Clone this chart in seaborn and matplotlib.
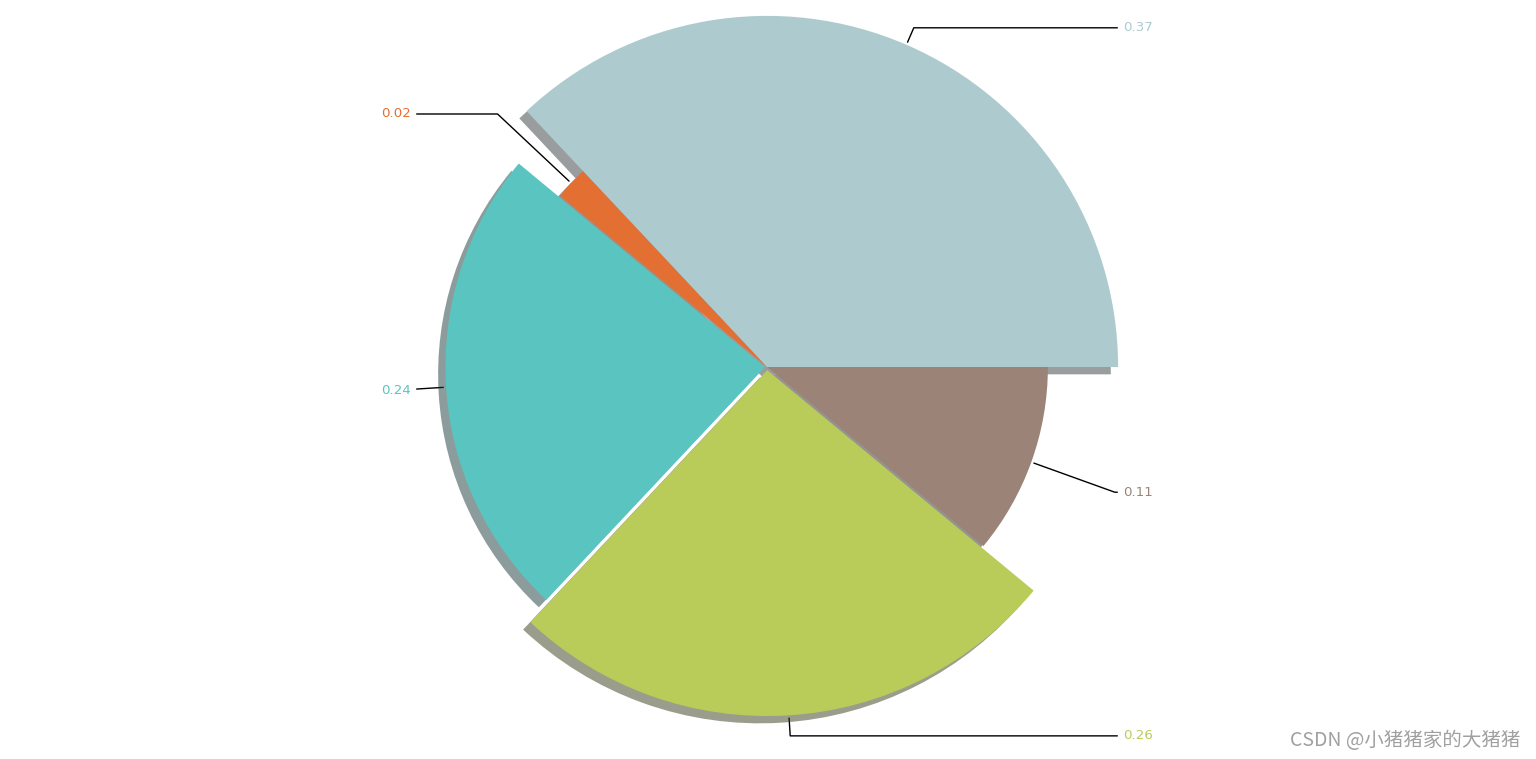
import numpy as np
import matplotlib
matplotlib.use("Agg")
import matplotlib.pyplot as plt
import seaborn as sns

sns.set_style("white")
plt.rcParams['font.family'] = ['DejaVu Sans', 'Noto Sans CJK SC']

# data
values = [0.37, 0.02, 0.24, 0.26, 0.11]
labels = ["0.37", "0.02", "0.24", "0.26", "0.11"]
radii = [1.33, 1.01, 1.21, 1.31, 1.064]
explode = [0, 0.008, 0.008, 0.012, 0]
colors = ["#adcbcf", "#e46f33", "#5ac5c0", "#b9cc59", "#9b8477"]

fig = plt.figure(figsize=(15.36, 7.59), dpi=100)
ax = fig.add_axes([0, 0, 1, 1])

wedges, _ = ax.pie(values, colors=colors, explode=explode, shadow=True,
                   startangle=0, wedgeprops=dict(linewidth=0))
for w, r in zip(wedges, radii):
    w.set_radius(r)

kw = dict(arrowprops=dict(arrowstyle="-", color="black", lw=1),
          zorder=0, va="center", fontsize=9.6)
for i, w in enumerate(wedges):
    ang = (w.theta2 + w.theta1) / 2.
    x = np.cos(np.deg2rad(ang))
    y = np.sin(np.deg2rad(ang))
    rr = radii[i] + explode[i]
    ha = {-1: "right", 1: "left"}[int(np.sign(x))]
    conn = "angle,angleA=0,angleB={}".format(ang)
    kw["arrowprops"].update({"connectionstyle": conn})
    ax.annotate(labels[i], xy=(rr * x, rr * y), xytext=(1.35 * np.sign(x), 1.4 * y),
                ha=ha, color=colors[i], **kw)

# keep 1 unit = 264 px, centre at (767, 367) from top-left
s = 264
ax.set_xlim(-767 / s, (1536 - 767) / s)
ax.set_ylim(-(759 - 367) / s, 367 / s)
ax.set_aspect("auto")
ax.axis("off")

fig.text(0.9896, 0.025, "CSDN @小猪猪家的大猪猪", ha="right", va="center",
         color="#a0a0a0", fontsize=14, family=["Noto Sans CJK SC", "DejaVu Sans"])

fig.savefig("out.png", dpi=100)
